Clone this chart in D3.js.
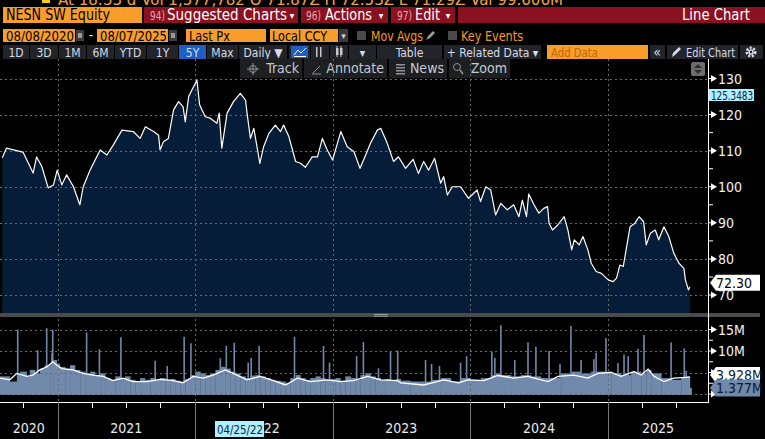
<!DOCTYPE html>
<html>
<head>
<meta charset="utf-8">
<title>NESN SW Equity - Line Chart</title>
<script src="https://cdn.jsdelivr.net/npm/d3@7"></script>
<style>
	body { margin:0; background:#000; }
	svg { display:block; font-family:"Liberation Sans Narrow","DejaVu Sans Condensed","Roboto",sans-serif; }
</style>
</head>
<body>
<svg id="chart"></svg>
<script>
// last price, daily close
var priceDates = ["2020-08-07","2020-08-18","2020-10-01","2020-10-28","2020-11-06","2020-11-20","2020-12-07","2020-12-21","2020-12-31","2021-01-12",
	"2021-01-25","2021-02-12","2021-03-01","2021-03-10","2021-03-28","2021-04-15","2021-04-24","2021-05-12","2021-05-29","2021-06-21",
	"2021-07-21","2021-08-08","2021-08-22","2021-09-13","2021-09-26","2021-09-30","2021-10-09","2021-10-22","2021-11-05","2021-11-18",
	"2021-11-30","2021-12-06","2021-12-15","2021-12-28","2022-01-06","2022-01-13","2022-01-28","2022-02-10","2022-02-28","2022-03-06",
	"2022-03-13","2022-03-27","2022-04-13","2022-05-01","2022-05-15","2022-05-19","2022-05-28","2022-06-06","2022-06-22","2022-07-02",
	"2022-07-16","2022-08-02","2022-08-16","2022-08-24","2022-09-07","2022-09-25","2022-10-08","2022-10-21","2022-11-08","2022-11-22",
	"2022-12-05","2022-12-18","2023-01-01","2023-01-23","2023-02-09","2023-02-27","2023-03-15","2023-03-30","2023-04-12","2023-04-30",
	"2023-05-09","2023-05-26","2023-06-12","2023-06-25","2023-07-14","2023-08-03","2023-08-17","2023-08-31","2023-09-13","2023-09-29",
	"2023-10-15","2023-10-23","2023-11-02","2023-11-15","2023-12-07","2023-12-28","2024-01-20","2024-01-29","2024-02-12","2024-02-25",
	"2024-03-09","2024-03-23","2024-04-09","2024-04-26","2024-05-10","2024-05-19","2024-05-30","2024-06-05","2024-06-19","2024-07-02",
	"2024-07-15","2024-07-25","2024-07-29","2024-08-07","2024-08-21","2024-09-07","2024-09-17","2024-09-27","2024-10-04","2024-10-17",
	"2024-10-27","2024-11-09","2024-11-18","2024-12-01","2024-12-15","2025-01-02","2025-01-15","2025-01-24","2025-02-02","2025-02-11",
	"2025-02-20","2025-03-01","2025-03-14","2025-03-25","2025-04-06","2025-04-13","2025-04-24","2025-05-07","2025-05-16","2025-05-30",
	"2025-06-12","2025-06-25","2025-07-09","2025-07-22","2025-07-26","2025-08-03","2025-08-07"];
var priceValues = [108.0,110.7,109.6,103.8,108.3,105.6,99.7,100.5,104.6,100.5,
	103.3,100.0,95.0,100.0,104.6,108.3,110.2,108.8,111.6,115.7,
	115.3,113.4,116.6,115.3,114.3,110.2,112.5,113.4,121.3,123.6,
	122.2,118.0,125.0,127.7,129.6,122.7,119.4,119.0,117.6,120.4,
	110.7,120.4,123.6,125.9,124.0,120.4,113.4,116.2,106.5,111.1,
	114.8,117.1,115.3,117.1,113.9,107.0,106.5,105.4,108.3,108.3,
	113.4,110.2,107.4,115.3,111.1,109.7,105.1,108.8,112.1,115.7,
	116.2,112.1,107.0,108.3,105.1,107.6,103.7,107.0,104.6,107.9,
	101.0,102.8,97.7,100.0,100.0,96.8,99.1,95.9,100.0,99.1,
	92.2,95.4,93.6,95.0,91.7,96.3,91.7,98.0,95.0,92.7,
	94.0,94.5,89.9,88.0,89.4,91.7,88.0,82.5,85.3,83.9,
	86.2,82.5,78.8,76.5,76.0,74.2,73.7,74.7,78.3,77.9,
	83.4,88.9,89.9,91.7,90.3,83.9,87.1,88.0,85.3,88.9,
	86.2,81.6,78.8,77.4,74.2,71.4,72.3];

// volume (millions), underlying level
var volDates = ["2020-08-01","2020-08-27","2020-09-15","2020-09-23","2020-10-11","2020-10-19","2020-11-02","2020-11-15","2020-11-28","2020-12-12",
	"2020-12-20","2020-12-30","2021-01-07","2021-01-21","2021-02-03","2021-02-16","2021-03-02","2021-03-15","2021-03-28","2021-04-10",
	"2021-04-24","2021-05-07","2021-05-20","2021-06-03","2021-06-16","2021-06-29","2021-07-13","2021-07-26","2021-08-08","2021-08-21",
	"2021-09-04","2021-09-17","2021-09-30","2021-10-14","2021-10-27","2021-11-09","2021-11-23","2021-12-06","2021-12-19","2022-01-01",
	"2022-01-15","2022-01-28","2022-02-10","2022-02-24","2022-03-09","2022-03-22","2022-04-05","2022-04-18","2022-05-01","2022-05-15",
	"2022-05-28","2022-06-10","2022-06-23","2022-07-07","2022-07-20","2022-08-02","2022-08-16","2022-08-29","2022-09-11","2022-09-25",
	"2022-10-08","2022-10-21","2022-11-03","2022-11-17","2022-11-30","2022-12-13","2022-12-27","2023-01-09","2023-01-22","2023-02-04",
	"2023-02-18","2023-03-03","2023-03-16","2023-03-30","2023-04-12","2023-04-25","2023-05-09","2023-05-22","2023-06-04","2023-06-18",
	"2023-07-01","2023-07-27","2023-08-23","2023-09-19","2023-10-15","2023-11-11","2023-12-08","2024-01-03","2024-01-30","2024-02-25",
	"2024-03-10","2024-03-23","2024-04-19","2024-05-15","2024-06-11","2024-07-07","2024-08-03","2024-08-30","2024-09-25","2024-10-22",
	"2024-11-17","2024-12-14","2025-01-10","2025-02-05","2025-03-04","2025-03-31","2025-04-13","2025-04-26","2025-05-23","2025-06-18",
	"2025-07-15","2025-07-28","2025-08-07"];
var volValues = [4.1,2.9,4.8,5.2,4.1,5.6,4.8,5.9,6.7,7.1,
	7.9,7.1,6.3,5.9,6.7,5.6,5.2,4.8,5.2,4.4,
	4.8,3.7,3.3,4.1,3.7,4.1,3.3,2.9,3.7,3.3,
	3.7,3.3,3.7,3.3,3.5,3.1,2.9,3.5,4.4,5.2,
	4.8,4.4,4.8,5.6,6.3,5.9,5.2,4.8,4.1,3.7,
	4.3,4.4,4.1,3.7,3.3,3.1,2.9,2.6,3.7,4.4,
	3.7,3.3,3.7,4.1,3.7,3.3,3.5,3.7,3.1,4.1,
	3.7,3.3,4.4,4.8,4.1,3.7,3.3,3.5,3.1,3.5,
	3.1,2.9,2.9,3.3,3.7,2.9,3.7,3.3,3.7,4.4,
	4.8,4.4,4.1,4.4,4.1,3.7,3.7,4.8,5.2,4.8,
	5.2,5.2,4.8,4.4,5.2,4.8,5.6,4.8,3.7,3.3,
	3.7,4.1,1.377];

// single-day volume spikes (millions)
var spikeDates = ["2020-09-17","2020-11-09","2020-12-03","2020-12-17","2020-12-19","2021-03-19","2021-04-22","2021-06-18","2021-09-17","2021-10-19",
	"2021-12-03","2021-12-21","2022-03-09","2022-03-25","2022-04-15","2022-05-22","2022-05-30","2022-06-20","2022-09-22","2022-12-08",
	"2022-12-24","2023-03-06","2023-03-24","2023-05-03","2023-06-04","2023-06-23","2023-09-05","2023-09-21","2023-10-12","2023-12-07",
	"2023-12-23","2024-02-28","2024-03-07","2024-03-23","2024-04-29","2024-06-03","2024-06-24","2024-07-29","2024-08-27","2024-09-25",
	"2024-10-22","2024-11-25","2024-12-01","2024-12-27","2025-01-28","2025-02-13","2025-02-24","2025-03-22","2025-04-07","2025-06-18",
	"2025-07-23","2025-07-28"];
var spikeValues = [15.0,10.2,15.3,9.5,15.0,14.3,10.4,13.2,7.7,6.5,
	13.3,11.8,8.3,11.2,11.9,7.3,8.4,11.2,13.3,11.2,
	7.3,8.8,12.1,6.0,9.8,10.1,7.9,7.0,6.5,7.3,
	8.8,9.8,8.4,16.0,7.9,12.0,11.0,10.0,7.0,15.8,
	7.9,8.1,9.6,13.0,7.2,9.2,8.8,10.5,13.7,12.0,
	10.6,5.4];

// volume moving average (millions)
var avgDates = ["2020-08-01","2020-08-27","2020-09-15","2020-10-11","2020-10-27","2020-11-15","2020-12-03","2020-12-19","2020-12-30","2021-01-12",
	"2021-02-11","2021-03-09","2021-04-05","2021-05-02","2021-05-28","2021-06-24","2021-07-20","2021-08-27","2021-09-30","2021-11-04",
	"2021-11-30","2021-12-27","2022-01-23","2022-02-18","2022-03-22","2022-04-12","2022-05-19","2022-06-23","2022-07-28","2022-08-29",
	"2022-09-30","2022-11-03","2022-12-18","2023-01-22","2023-02-25","2023-04-04","2023-05-09","2023-06-23","2023-07-01","2023-08-31",
	"2023-10-23","2023-12-02","2023-12-26","2024-02-07","2024-03-15","2024-04-26","2024-06-02","2024-07-26","2024-08-22","2024-10-03",
	"2024-11-09","2024-12-06","2025-01-10","2025-02-05","2025-03-11","2025-03-31","2025-04-18","2025-05-04","2025-05-30","2025-06-25",
	"2025-08-07"];
var avgValues = [3.7,3.3,4.8,4.1,4.4,5.6,6.3,7.5,6.7,5.9,
	5.6,4.8,4.4,4.1,3.1,3.7,2.9,2.9,3.4,3.1,
	2.6,4.1,3.7,4.4,5.6,4.8,3.3,4.1,3.1,2.1,
	3.7,2.9,3.3,2.9,3.1,4.1,3.3,3.1,2.6,2.1,
	3.3,2.6,3.3,3.1,4.3,3.7,4.1,2.9,4.1,4.4,
	3.7,4.8,5.0,4.1,5.2,4.4,5.8,4.1,2.9,3.7,
	3.928];

var priceTicks = [70, 80, 90, 100, 110, 120, 130];
var priceMinor = [75, 85, 95, 105, 115, 125];
var volTicks = [0, 5, 10, 15];
var volMinor = [2.5, 7.5, 12.5];
var volLabels = ["", "", "10M", "15M"];

var W = 765, H = 439;
var plotRight = 708, priceTop = 59, priceBottom = 313, volBottom = 394, axisY = 402;
var orange = "#f99d2a", red = "#8b1020", navy = "#061d3a", steel = "#7189aa";

var parse = d3.utcParse("%Y-%m-%d");
var price = d3.zip(priceDates, priceValues).map(function(d) { return {date: parse(d[0]), v: d[1]}; });
var vol = d3.zip(volDates, volValues).map(function(d) { return {date: parse(d[0]), v: d[1]}; });
var spikes = d3.zip(spikeDates, spikeValues).map(function(d) { return {date: parse(d[0]), v: d[1]}; });
var avg = d3.zip(avgDates, avgValues).map(function(d) { return {date: parse(d[0]), v: d[1]}; });

var x = d3.scaleUtc().domain([parse("2020-08-01"), parse("2025-09-24")]).range([0, plotRight]);
var yP = d3.scaleLinear().domain([70, 130]).range([295, 78.5]);
var yV = d3.scaleLinear().domain([0, 15]).range([volBottom, 329.5]);

var svg = d3.select("#chart").attr("width", W).attr("height", H);
svg.append("rect").attr("width", W).attr("height", H).attr("fill", "#000");

function box(x0, y0, w, h, fill) {
	return svg.append("rect").attr("x", x0).attr("y", y0).attr("width", w).attr("height", h).attr("fill", fill);
}
function txt(x0, y0, s, size, fill, len, anchor) {
	var t = svg.append("text").attr("x", x0).attr("y", y0).attr("font-size", size)
		.attr("fill", fill).attr("text-anchor", anchor || "start").text(s);
	if (len) t.attr("textLength", len).attr("lengthAdjust", "spacingAndGlyphs");
	return t;
}

// ---- top strip (cut off) ----
box(42, 0, 8, 3, "#f5d000");
txt(58, 5, "At 18:33 d  Vol 1,577,782  O 71.87Z  H 72.53Z  L 71.29Z  Val 99.606M", 15, "#f3a43a", 505);

// ---- title bar ----
box(3, 7, 139, 16, orange);
txt(6, 20, "NESN SW Equity", 15, "#000", 104);
box(144, 7, 621, 16, red);
box(298, 7, 3, 16, "#000");
box(388, 7, 3, 16, "#000");
box(455, 7, 3, 16, "#000");
txt(150, 20, "94)", 12, "#e3a9b1", 15);
txt(167, 20, "Suggested Charts", 15, "#fff", 120);
txt(292, 19, "▾", 10, "#fff", null, "middle");
txt(306, 20, "96)", 12, "#e3a9b1", 15);
txt(325, 20, "Actions", 15, "#fff", 47);
txt(381, 19, "▾", 10, "#fff", null, "middle");
txt(397, 20, "97)", 12, "#e3a9b1", 15);
txt(415, 20, "Edit", 15, "#fff", 25);
txt(448, 19, "▾", 10, "#fff", null, "middle");
txt(750, 20, "Line Chart", 15, "#fff", 68, "end");

// ---- date / field row ----
function calIcon(x0) {
	box(x0, 30, 8, 11, "#3c3c3c");
	box(x0 + 2, 33, 4, 5, "#9a9a9a");
}
box(3, 29, 72, 13, orange); txt(6, 40.5, "08/08/2020", 14, "#000", 68); calIcon(76);
txt(91, 40, "-", 14, "#e8e8e8", null, "middle");
box(97, 29, 71, 13, orange); txt(100, 40.5, "08/07/2025", 14, "#000", 67); calIcon(169);
box(186, 29, 80, 13, orange); txt(189, 40.5, "Last Px", 14, "#000", 41);
box(270, 29, 68, 13, orange); txt(272, 40.5, "Local CCY", 14, "#000", 55);
box(339, 29, 9, 13, "#3a3a3a"); txt(343.5, 39, "▾", 9, "#ddd", null, "middle");
box(357, 31, 9, 9, "#4a4a4a");
txt(371, 40.5, "Mov Avgs", 14, "#f79a22", 52);
svg.append("path").attr("d", "M426,40 L428,36 L433,31 L435,33 L430,38 Z").attr("fill", "#9a9a9a");
box(448, 31, 9, 9, "#4a4a4a");
txt(461, 40.5, "Key Events", 14, "#f79a22", 62);

// ---- range / tool buttons ----
var rangeButtons = [["1D", 3, 29], ["3D", 30, 58], ["1M", 59, 86], ["6M", 87, 114], ["YTD", 115, 146], ["1Y", 147, 178],
	["5Y", 179, 206], ["Max", 207, 238], ["Daily ▼", 239, 287], ["", 289, 310], ["", 311, 329], ["", 330, 348], ["▾", 349, 376],
	["Table", 377, 442], ["+ Related Data ▾", 444, 541]];
rangeButtons.forEach(function(b) {
	box(b[1], 45, b[2] - b[1], 14, b[0] == "5Y" ? "#1f5fc4" : "#222429");
	txt((b[1] + b[2]) / 2, 56.5, b[0], 12, "#d6dce8", null, "middle");
});
box(291, 46, 17, 12, "#1f5fc4");
svg.append("polyline").attr("points", "294,55 298,50 301,53 306,48").attr("fill", "none").attr("stroke", "#fff").attr("stroke-width", 1);
svg.append("line").attr("x1", 294).attr("y1", 56.5).attr("x2", 306).attr("y2", 56.5).attr("stroke", "#fff");
[316, 320].forEach(function(px) { box(px, 47, 1.5, 10, "#c8c8c8"); });
[336, 340].forEach(function(px) { box(px, 48, 2.5, 7, "#c8c8c8"); box(px + 0.5, 46, 1, 11, "#c8c8c8"); });
box(547, 45, 101, 14, orange);
txt(551, 56.5, "Add Data", 13, "#b96a0e", 47);
box(650, 45, 15, 14, "#222429"); txt(657, 56.5, "«", 14, "#d6dce8", null, "middle");
box(667, 45, 71, 14, "#222429");
svg.append("path").attr("d", "M672,57 L673,53 L679,47 L681,49 L675,55 Z").attr("fill", "#d6dce8");
txt(686, 56.5, "Edit Chart", 13, "#d6dce8", 49);
box(740, 45, 23, 14, "#222429");
svg.append("circle").attr("cx", 751).attr("cy", 52).attr("r", 4).attr("fill", "none").attr("stroke", "#d6dce8").attr("stroke-width", 3).attr("stroke-dasharray", "2,1.4");
svg.append("circle").attr("cx", 751).attr("cy", 52).attr("r", 2.6).attr("fill", "#d6dce8");
svg.append("circle").attr("cx", 751).attr("cy", 52).attr("r", 1.2).attr("fill", "#222429");

// ---- track toolbar ----
var toolButtons = [["Track", 240, 302], ["Annotate", 304, 387], ["News", 389, 447], ["Zoom", 449, 510]];
toolButtons.forEach(function(b) {
	box(b[1], 59, b[2] - b[1], 19, "#1e1f21");
	txt(b[2] - 3, 73, b[0], 14, "#c3cad6", null, "end");
});
svg.append("circle").attr("cx", 253).attr("cy", 69).attr("r", 3.5).attr("fill", "none").attr("stroke", "#8d949e");
svg.append("path").attr("d", "M247,69 H259 M253,63 V75").attr("stroke", "#8d949e");
svg.append("path").attr("d", "M313,73 L320,66 M312,74 H321").attr("stroke", "#8d949e").attr("fill", "none");
[64, 67, 70, 73].forEach(function(py) { box(396, py, 9, 1.5, "#8d949e"); });
svg.append("circle").attr("cx", 457).attr("cy", 67).attr("r", 3.5).attr("fill", "none").attr("stroke", "#8d949e");
svg.append("line").attr("x1", 460).attr("y1", 70).attr("x2", 463).attr("y2", 74).attr("stroke", "#8d949e").attr("stroke-width", 1.5);

// ---- price panel ----
svg.append("clipPath").attr("id", "priceClip").append("rect")
	.attr("x", 0).attr("y", priceTop).attr("width", plotRight).attr("height", priceBottom - priceTop);

var area = d3.area().x(function(d) { return x(d.date); }).y0(priceBottom).y1(function(d) { return yP(d.v); });
var line = d3.line().x(function(d) { return x(d.date); }).y(function(d) { return yP(d.v); });

svg.append("path").datum(price).attr("d", area).attr("fill", navy).attr("clip-path", "url(#priceClip)");

// ---- volume panel ----
svg.selectAll(".vbar").data(vol).enter().append("rect").attr("class", "vbar")
	.attr("x", function(d) { return x(d.date); })
	.attr("width", function(d, i) { return i < vol.length - 1 ? x(vol[i + 1].date) - x(d.date) + 0.3 : 2; })
	.attr("y", function(d) { return yV(d.v); })
	.attr("height", function(d) { return volBottom - yV(d.v) + 1; })
	.attr("fill", steel);
svg.selectAll(".spike").data(spikes).enter().append("rect").attr("class", "spike")
	.attr("x", function(d) { return x(d.date) - 0.8; })
	.attr("width", 1.6)
	.attr("y", function(d) { return yV(d.v); })
	.attr("height", function(d) { return volBottom - yV(d.v) + 1; })
	.attr("fill", steel);

// ---- grid ----
var grid = svg.append("g").attr("stroke", "#6a6a6a").attr("stroke-width", 1).attr("stroke-dasharray", "2,3");
grid.selectAll(".hp").data(priceTicks).enter().append("line")
	.attr("x1", 0).attr("x2", plotRight).attr("y1", function(d) { return Math.round(yP(d)) + 0.5; }).attr("y2", function(d) { return Math.round(yP(d)) + 0.5; });
grid.selectAll(".hv").data(volTicks).enter().append("line")
	.attr("x1", 0).attr("x2", plotRight).attr("y1", function(d) { return Math.round(yV(d)) + 0.5; }).attr("y2", function(d) { return Math.round(yV(d)) + 0.5; });
var years = d3.utcYear.range(parse("2021-01-01"), parse("2025-02-01"));
grid.selectAll(".vy").data(years).enter().append("line")
	.attr("x1", function(d) { return Math.round(x(d)) + 0.5; }).attr("x2", function(d) { return Math.round(x(d)) + 0.5; })
	.attr("y1", priceTop).attr("y2", axisY);

// lines on top of the grid
svg.append("path").datum(price).attr("d", line).attr("fill", "none").attr("stroke", "#fff").attr("stroke-width", 1.2)
	.attr("stroke-linejoin", "round").attr("clip-path", "url(#priceClip)");
svg.append("path").datum(avg).attr("d", d3.line().x(function(d) { return x(d.date); }).y(function(d) { return yV(d.v); }))
	.attr("fill", "none").attr("stroke", "#fff").attr("stroke-width", 1.3);

// panel separator and scroll button
box(0, 313, 760, 4, "#4b4b4b");
box(374, 314, 14, 0.8, "#aaa"); box(374, 315.8, 14, 0.8, "#aaa");
svg.append("rect").attr("x", 691).attr("y", 62).attr("width", 14).attr("height", 14).attr("rx", 2).attr("fill", "#6d6d6d");
svg.append("path").attr("d", "M694,68 L698,64 L702,68 Z M694,70 L698,74 L702,70 Z").attr("fill", "#2e2e2e");

// ---- right axis ----
svg.append("line").attr("x1", plotRight + 0.5).attr("x2", plotRight + 0.5).attr("y1", priceTop).attr("y2", axisY).attr("stroke", "#fff");
function arrowTick(py) {
	svg.append("path").attr("d", "M" + (plotRight) + "," + (py - 0.5) + " H711 L711,"+(py-3.5)+" L717," + py + " L711," + (py + 3.5) + " L711," + (py + 0.5) + " H" + plotRight + " Z").attr("fill", "#fff");
}
priceTicks.forEach(function(t) { arrowTick(yP(t)); });
priceMinor.forEach(function(t) {
	svg.append("line").attr("x1", plotRight).attr("x2", 713).attr("y1", yP(t)).attr("y2", yP(t)).attr("stroke", "#fff");
});
svg.selectAll(".pl").data(priceTicks).enter().append("text")
	.attr("x", 718).attr("y", function(d) { return yP(d) + 5; })
	.attr("font-size", 14).attr("fill", "#f2f2f2").text(function(d) { return d; });
volTicks.forEach(function(t) { arrowTick(yV(t)); });
volMinor.forEach(function(t) {
	svg.append("line").attr("x1", plotRight).attr("x2", 713).attr("y1", yV(t)).attr("y2", yV(t)).attr("stroke", "#fff");
});
svg.selectAll(".vl").data(volTicks).enter().append("text")
	.attr("x", 718).attr("y", function(d) { return yV(d) + 5; })
	.attr("font-size", 14).attr("fill", "#f2f2f2").text(function(d, i) { return volLabels[i]; });

// value flags
function flag(py, h, fill, label, color, w) {
	svg.append("path").attr("d", "M710," + py + " L716," + (py - h / 2) + " H" + (716 + w) + " V" + (py + h / 2) + " H716 Z").attr("fill", fill);
	txt(716, py + 5, label, 14, color);
}
var last = price[price.length - 1];
flag(yP(last.v) - 4, 16, "#fff", last.v.toFixed(2), "#000", 44);
box(709, 89, 45, 12, "#aef0ff");
txt(711, 99.5, "125.3483", 12.5, "#0a2240", 42);
var lastAvg = avg[avg.length - 1];
flag(375, 16, "#fff", lastAvg.v.toFixed(3) + "M", "#0a1a30", 44);
var lastVol = vol[vol.length - 1];
flag(388, 17, steel, lastVol.v.toFixed(3) + "M", "#0a1a30", 44);

// ---- time axis ----
svg.append("line").attr("x1", 0).attr("x2", plotRight + 1).attr("y1", axisY + 0.5).attr("y2", axisY + 0.5).attr("stroke", "#fff");
svg.selectAll(".qt").data(x.ticks(d3.utcMonth.every(3))).enter().append("line")
	.attr("x1", function(d) { return Math.round(x(d)) + 0.5; }).attr("x2", function(d) { return Math.round(x(d)) + 0.5; })
	.attr("y1", axisY).attr("y2", axisY + 6).attr("stroke", "#fff");
svg.selectAll(".ysep").data(years).enter().append("line")
	.attr("x1", function(d) { return Math.round(x(d)) + 0.5; }).attr("x2", function(d) { return Math.round(x(d)) + 0.5; })
	.attr("y1", axisY).attr("y2", H).attr("stroke", "#7a7a7a");
var yearStarts = d3.utcYear.range(parse("2020-01-01"), parse("2026-01-01"));
svg.selectAll(".yl").data(yearStarts).enter().append("text")
	.attr("x", function(d) {
		var a = Math.max(0, x(d)), b = Math.min(plotRight, x(d3.utcYear.offset(d, 1)));
		return (a + b) / 2;
	})
	.attr("y", 433).attr("text-anchor", "middle").attr("font-size", 14).attr("fill", "#ececec")
	.text(d3.utcFormat("%Y"));
box(215, 421, 49, 16, "#aef0ff");
txt(217, 433.5, "04/25/22", 13, "#0a2240", 46);
</script>
</body>
</html>
